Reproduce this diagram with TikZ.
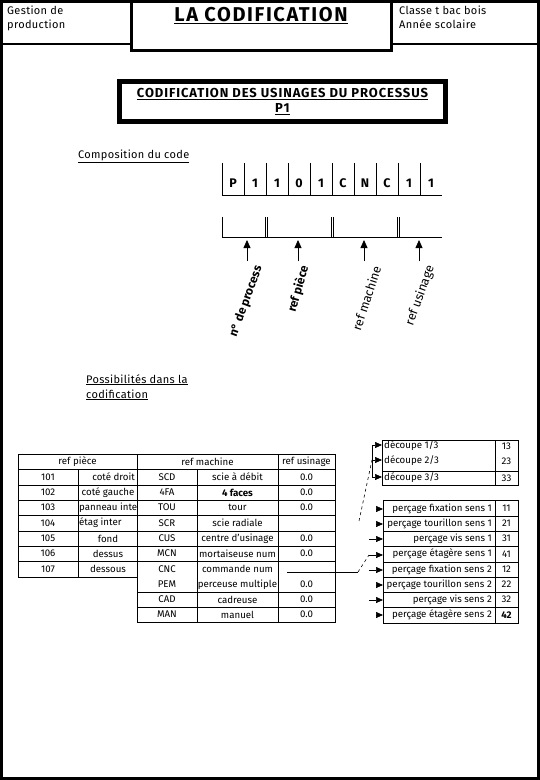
\documentclass[tikz,border=0pt]{standalone}
\usepackage{fontspec}
\setmainfont{Fira Sans}
\usetikzlibrary{arrows.meta}
\tikzset{
  fleche/.style={-{Triangle[length=8pt,width=7pt]},line width=0.8pt},
  pointe/.style={-{Triangle[length=7pt,width=6pt]},line width=0.6pt},
  cellule/.style={inner sep=0pt,font=\fontsize{9.7}{11}\selectfont},
  chiffre/.style={inner sep=0pt,font=\bfseries\fontsize{12.5}{14}\selectfont},
  etiquette/.style={inner sep=0pt,anchor=east,font=\fontsize{12.5}{14}\selectfont},
  texte/.style={anchor=north west,align=left,inner sep=0pt,font=\fontsize{11}{14}\selectfont\addfontfeatures{LetterSpace=3}},
}
\begin{document}
\begin{tikzpicture}[x=1pt,y=-1pt]
\useasboundingbox (0,0) rectangle (540,780);

\draw[line width=3pt] (1.5,1.5) rectangle (538.5,778.5);
\draw[line width=2pt] (0,44) -- (540,44);
\draw[line width=3pt,fill=white] (131.5,1.5) rectangle (391.5,50.5);

\node[texte] (gestion) at (7,6) {Gestion de\\production};
\node[inner sep=0pt,font=\bfseries\fontsize{20}{22}\selectfont\addfontfeatures{LetterSpace=8}] (titre) at (261,16) {\underline{LA CODIFICATION}};
\node[texte] (classe) at (399,6) {Classe t bac bois\\Année scolaire};

\node[draw,line width=5pt,minimum width=326pt,minimum height=40pt,align=center,
  font=\bfseries\fontsize{13}{15}\selectfont\addfontfeatures{LetterSpace=7}] (soustitre) at (282.5,101.5)
  {\underline{CODIFICATION DES USINAGES DU PROCESSUS}\\\underline{P1}};

\node[texte,anchor=west] (compo) at (78,156) {\underline{Composition du code}};

\node[chiffre] (c1) at (233,183) {P};
\node[chiffre] (c2) at (255,183) {1};
\node[chiffre] (c3) at (277,183) {1};
\node[chiffre] (c4) at (299,183) {0};
\node[chiffre] (c5) at (321,183) {1};
\node[chiffre] (c6) at (343,183) {C};
\node[chiffre] (c7) at (365,183) {N};
\node[chiffre] (c8) at (387,183) {C};
\node[chiffre] (c9) at (409,183) {1};
\node[chiffre] (c10) at (431,183) {1};
\draw[line width=0.6pt] (222,163) -- (222,195) (244,163) -- (244,195) (266,163) -- (266,195)
  (288,163) -- (288,195) (310,163) -- (310,195) (332,163) -- (332,195) (354,163) -- (354,195)
  (376,163) -- (376,195) (398,163) -- (398,195) (420,163) -- (420,195);
\draw[line width=0.8pt] (222,195) -- (442,195);

\draw[line width=0.6pt] (222,217) -- (222,237) (265,217) -- (265,237) (267.5,217) -- (267.5,237)
  (331,217) -- (331,237) (333.5,217) -- (333.5,237) (397,217) -- (397,237) (399.5,217) -- (399.5,237);
\draw[line width=0.8pt] (222,237) -- (442,237);

\coordinate (bA) at (247,240);
\coordinate (bB) at (298,240);
\coordinate (bC) at (364,240);
\coordinate (bD) at (419,240);
\coordinate (qA) at (247,261);
\coordinate (qB) at (298,261);
\coordinate (qC) at (364,261);
\coordinate (qD) at (419,261);
\draw[fleche] (qA) -- (bA);
\draw[fleche] (qB) -- (bB);
\draw[fleche] (qC) -- (bC);
\draw[fleche] (qD) -- (bD);

\node[etiquette,rotate=70,font=\bfseries\fontsize{12}{14}\selectfont] (process) at (259,266) {n° de process};
\node[etiquette,rotate=74,font=\bfseries\fontsize{12}{14}\selectfont] (piece) at (305,266) {ref pièce};
\node[etiquette,rotate=72] (machine) at (377,266) {ref machine};
\node[etiquette,rotate=70] (usinage) at (431,266) {ref usinage};

\node[texte,font=\fontsize{11}{15}\selectfont\addfontfeatures{LetterSpace=3}] (possib) at (86,374)
  {\underline{Possibilités dans la}\\\underline{codification}};

\draw[line width=0.8pt] (18,454) rectangle (137,577);
\draw[line width=0.6pt] (18,469) -- (137,469) (18,485) -- (137,485) (18,500) -- (137,500) (18,515) -- (137,515)
  (18,531) -- (137,531) (18,546) -- (137,546) (18,561) -- (137,561) (78,469) -- (78,577);
\node[cellule] (pHead) at (77.5,461.5) {ref pièce};
\node[cellule] (p101) at (48,477) {101};
\node[cellule] (p102) at (48,492.5) {102};
\node[cellule] (p103) at (48,507.5) {103};
\node[cellule] (p104) at (48,523) {104};
\node[cellule] (p105) at (48,538.5) {105};
\node[cellule] (p106) at (48,553.5) {106};
\node[cellule] (p107) at (48,569) {107};
\node[cellule,anchor=east] (n101) at (135,477) {coté droit};
\node[cellule] (n102) at (108,492.5) {coté gauche};
\node[cellule,anchor=west] (n103) at (79,507.5) {panneau inte};
\node[cellule,anchor=west] (n104) at (79,523) {étag inter};
\node[cellule] (n105) at (108,538.5) {fond};
\node[cellule] (n106) at (108,553.5) {dessus};
\node[cellule] (n107) at (108,569) {dessous};

\draw[line width=0.8pt] (137,454) rectangle (335,622);
\draw[line width=0.6pt] (137,469) -- (335,469) (137,485) -- (335,485) (137,500) -- (335,500) (137,515) -- (335,515)
  (137,531) -- (335,531) (137,546) -- (335,546) (137,561) -- (335,561) (137,592) -- (335,592) (137,607) -- (335,607)
  (197,469) -- (197,622) (278,454) -- (278,622);
\node[cellule] (mHead) at (207.5,461.5) {ref machine};
\node[cellule] (uHead) at (306.5,461.5) {ref usinage};
\node[cellule] (mSCD) at (167,477) {SCD};
\node[cellule] (m4FA) at (167,492.5) {4FA};
\node[cellule] (mTOU) at (167,507.5) {TOU};
\node[cellule] (mSCR) at (167,523) {SCR};
\node[cellule] (mCUS) at (167,538.5) {CUS};
\node[cellule] (mMCN) at (167,553.5) {MCN};
\node[cellule] (mCNC) at (167,569) {CNC};
\node[cellule] (mPEM) at (167,584.5) {PEM};
\node[cellule] (mCAD) at (167,599.5) {CAD};
\node[cellule] (mMAN) at (167,614.5) {MAN};
\node[cellule] (dSCD) at (237.5,477) {scie à débit};
\node[cellule,font=\bfseries\fontsize{9.7}{11}\selectfont] (d4FA) at (237.5,492.5) {4 faces};
\node[cellule] (dTOU) at (237.5,507.5) {tour};
\node[cellule] (dSCR) at (237.5,523) {scie radiale};
\node[cellule] (dCUS) at (237.5,538.5) {centre d'usinage};
\node[cellule] (dMCN) at (237.5,553.5) {mortaiseuse num};
\node[cellule] (dCNC) at (237.5,569) {commande num};
\node[cellule] (dPEM) at (237.5,584.5) {perceuse multiple};
\node[cellule] (dCAD) at (237.5,599.5) {cadreuse};
\node[cellule] (dMAN) at (237.5,614.5) {manuel};
\node[cellule] (uSCD) at (306.5,477) {0.0};
\node[cellule] (u4FA) at (306.5,492.5) {0.0};
\node[cellule] (uTOU) at (306.5,507.5) {0.0};
\node[cellule] (uCUS) at (306.5,538.5) {0.0};
\node[cellule] (uMCN) at (306.5,553.5) {0.0};
\node[cellule] (uPEM) at (306.5,584.5) {0.0};
\node[cellule] (uCAD) at (306.5,599.5) {0.0};
\node[cellule] (uMAN) at (306.5,614.5) {0.0};

\draw[line width=0.8pt] (382,440) rectangle (518,485);
\draw[line width=0.6pt] (382,471) -- (518,471) (495,440) -- (495,485);
\node[cellule,anchor=west] (dec1) at (384,446) {découpe 1/3};
\node[cellule,anchor=west] (dec2) at (384,461) {découpe 2/3};
\node[cellule,anchor=west] (dec3) at (384,478) {découpe 3/3};
\node[cellule] (k13) at (506.5,446) {13};
\node[cellule] (k23) at (506.5,461) {23};
\node[cellule] (k33) at (506.5,478) {33};
\draw[line width=0.6pt] (372,445) -- (372,477);
\draw[pointe] (372,445) -- (382,445);
\draw[pointe] (372,460) -- (382,460);
\draw[pointe] (372,477) -- (382,477);

\draw[line width=0.8pt] (383,500) rectangle (518,623);
\draw[line width=0.6pt] (383,516) -- (518,516) (383,531) -- (518,531) (383,546) -- (518,546) (383,562) -- (518,562)
  (383,577) -- (518,577) (383,592) -- (518,592) (383,607) -- (518,607) (495,500) -- (495,623);
\node[cellule,anchor=east] (fix1) at (492,508.5) {perçage fixation sens 1};
\node[cellule,anchor=east] (tou1) at (492,523.5) {perçage tourillon sens 1};
\node[cellule,anchor=east] (vis1) at (492,538.5) {perçage vis sens 1};
\node[cellule,anchor=east] (eta1) at (492,554) {perçage étagère sens 1};
\node[cellule,anchor=east] (fix2) at (492,569.5) {perçage fixation sens 2};
\node[cellule,anchor=east] (tou2) at (492,584.5) {perçage tourillon sens 2};
\node[cellule,anchor=east] (vis2) at (492,599.5) {perçage vis sens 2};
\node[cellule,anchor=east] (eta2) at (492,615) {perçage étagère sens 2};
\node[cellule] (k11) at (506.5,508.5) {11};
\node[cellule] (k21) at (506.5,523.5) {21};
\node[cellule] (k31) at (506.5,538.5) {31};
\node[cellule] (k41) at (506.5,554) {41};
\node[cellule] (k12) at (506.5,569.5) {12};
\node[cellule] (k22) at (506.5,584.5) {22};
\node[cellule] (k32) at (506.5,599.5) {32};
\node[cellule,font=\bfseries\fontsize{9.7}{11}\selectfont] (k42) at (506.5,615) {42};
\draw[pointe] (376,509) -- (383,509);
\draw[pointe] (376,524) -- (383,524);
\draw[pointe] (369,539) -- (383,539);
\draw[pointe] (369,555) -- (383,555);
\draw[pointe] (369,570) -- (383,570);
\draw[pointe] (376,585) -- (383,585);
\draw[pointe] (369,600) -- (383,600);
\draw[pointe] (376,615) -- (383,615);

\coordinate (scr) at (359,521);
\coordinate (brac) at (372,460);
\draw[dashed,line width=0.6pt] (scr) -- (brac);
\coordinate (cncA) at (287,572);
\coordinate (cncB) at (358,572);
\coordinate (etaA) at (369,555);
\draw[line width=0.6pt] (cncA) -- (cncB);
\draw[dashed,line width=0.6pt] (cncB) -- (etaA);
\end{tikzpicture}
\end{document}
